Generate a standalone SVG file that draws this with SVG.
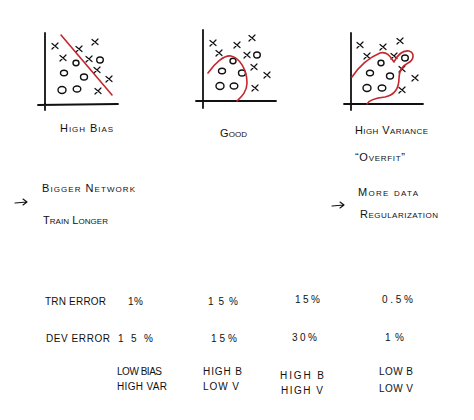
<svg xmlns="http://www.w3.org/2000/svg" width="474" height="420" viewBox="0 0 474 420">
<defs>
<style>
.ax{stroke:#111;stroke-width:1.8;fill:none;stroke-linecap:round}
.x{stroke:#111;stroke-width:1.2;fill:none;stroke-linecap:round}
.o{stroke:#111;stroke-width:1.4;fill:none}
.red{stroke:#c4262e;stroke-width:1.6;fill:none;stroke-linecap:round;stroke-linejoin:round}
.t{font-family:"Liberation Sans",Arial,sans-serif;font-size:11px;fill:#111;font-variant:small-caps}
.u{font-family:"Liberation Sans",Arial,sans-serif;font-size:10px;fill:#111}
.arr{stroke:#111;stroke-width:1.1;fill:none;stroke-linecap:round;stroke-linejoin:round}
</style>
<g id="xm"><path class="x" d="M-3,-2.5 L3,2.5 M3,-3 L-3,3"/></g>
</defs>

<g id="panel-high-bias">
<path class="ax" d="M45,33 L45,110 M38,105 L118,104"/>
<use href="#xm" x="55" y="46"/><use href="#xm" x="79" y="49"/><use href="#xm" x="95" y="42"/>
<use href="#xm" x="63" y="58"/><use href="#xm" x="89" y="59"/><use href="#xm" x="97" y="70"/>
<use href="#xm" x="109" y="79"/><use href="#xm" x="98" y="91"/>
<ellipse class="o" cx="76" cy="63" rx="3" ry="2.7"/><ellipse class="o" cx="100" cy="60" rx="3.3" ry="3"/>
<ellipse class="o" cx="64" cy="73" rx="3.5" ry="2.8"/><ellipse class="o" cx="84" cy="77" rx="3.5" ry="3"/>
<ellipse class="o" cx="62" cy="90" rx="4" ry="3.5"/><ellipse class="o" cx="77" cy="89" rx="3.8" ry="3"/>
<path class="red" d="M61,35 L112,95"/>
<text class="t" x="60" y="131.5" textLength="53" lengthAdjust="spacing">High Bias</text>
</g>

<g id="panel-good">
<path class="ax" d="M203,30 L203,108 M196,101 L276,101"/>
<use href="#xm" x="213" y="43"/><use href="#xm" x="237" y="45"/><use href="#xm" x="252" y="38"/>
<use href="#xm" x="219" y="53"/><use href="#xm" x="247" y="55"/><use href="#xm" x="254" y="67"/>
<use href="#xm" x="267" y="75"/><use href="#xm" x="255" y="88"/>
<ellipse class="o" cx="233" cy="61" rx="3" ry="2.7"/><ellipse class="o" cx="257" cy="55" rx="3.3" ry="3"/>
<ellipse class="o" cx="222" cy="71" rx="3.5" ry="2.8"/><ellipse class="o" cx="242" cy="73" rx="3.5" ry="3"/>
<ellipse class="o" cx="220" cy="86" rx="4" ry="3.5"/><ellipse class="o" cx="234" cy="86" rx="3.8" ry="3"/>
<path class="red" d="M208,73 C215,63 224,55 231,56 C240,58 247,70 247,83 C247,92 241,97 237,101"/>
<text class="t" x="220" y="136.5" textLength="27" lengthAdjust="spacing">Good</text>
</g>

<g id="panel-high-variance">
<path class="ax" d="M351,33 L351,110 M344,104 L423,104"/>
<use href="#xm" x="360" y="45"/><use href="#xm" x="383" y="47"/><use href="#xm" x="400" y="41"/>
<use href="#xm" x="367" y="56"/><use href="#xm" x="394" y="56"/><use href="#xm" x="402" y="69"/>
<use href="#xm" x="415" y="78"/><use href="#xm" x="402" y="90"/>
<ellipse class="o" cx="381" cy="63" rx="3" ry="2.7"/><ellipse class="o" cx="405" cy="58" rx="3.3" ry="3"/>
<ellipse class="o" cx="370" cy="73" rx="3.5" ry="2.8"/><ellipse class="o" cx="390" cy="76" rx="3.5" ry="3"/>
<ellipse class="o" cx="367" cy="88" rx="4" ry="3.5"/><ellipse class="o" cx="382" cy="88" rx="3.8" ry="3"/>
<path class="red" d="M352,77 C358,68 368,58 380,53 C388,51 391,58 394,62 C397,56 402,50 409,51 C415,53 414,60 408,63 C402,66 399,70 399,78 C399,88 395,95 385,97 C375,98 369,100 367,104"/>
<text class="t" x="355" y="133.5" textLength="73" lengthAdjust="spacing">High Variance</text>
<text class="t" x="355" y="160.5" textLength="50" lengthAdjust="spacing">“Overfit”</text>
</g>

<g id="remedy-bias">
<path class="arr" d="M15,203 L27,202 M23,199 L27,202 L23,205"/>
<text class="t" x="42" y="191.5" textLength="93" lengthAdjust="spacing">Bigger Network</text>
<text class="t" x="43" y="223.5" textLength="65" lengthAdjust="spacing">Train Longer</text>
</g>

<g id="remedy-variance">
<path class="arr" d="M332,206 L344,205 M340,202 L344,205 L340,208"/>
<text class="t" x="358" y="195.5" textLength="60" lengthAdjust="spacing">More data</text>
<text class="t" x="360" y="217.5" textLength="78" lengthAdjust="spacing">Regularization</text>
</g>

<g id="table">
<text class="u" x="45" y="304.5" textLength="61" lengthAdjust="spacing">TRN ERROR</text>
<text class="u" x="46" y="341.5" textLength="64" lengthAdjust="spacing">DEV ERROR</text>
<text class="u" x="128" y="304.5" textLength="15" lengthAdjust="spacing">1%</text>
<text class="u" x="118" y="341.5" textLength="35" lengthAdjust="spacing">15%</text>
<text class="u" x="208" y="304.5" textLength="30" lengthAdjust="spacing">15%</text>
<text class="u" x="211" y="341.5" textLength="26" lengthAdjust="spacing">15%</text>
<text class="u" x="295" y="302.5" textLength="25" lengthAdjust="spacing">15%</text>
<text class="u" x="292" y="340.5" textLength="25" lengthAdjust="spacing">30%</text>
<text class="u" x="382" y="302.5" textLength="31" lengthAdjust="spacing">0.5%</text>
<text class="u" x="385" y="340.5" textLength="19" lengthAdjust="spacing">1%</text>
<text class="u" x="117" y="374.5" textLength="45" lengthAdjust="spacing">LOW BIAS</text>
<text class="u" x="117" y="389.5" textLength="50" lengthAdjust="spacing">HIGH VAR</text>
<text class="u" x="203" y="374.5" textLength="39" lengthAdjust="spacing">HIGH B</text>
<text class="u" x="203" y="389.5" textLength="36" lengthAdjust="spacing">LOW V</text>
<text class="u" x="280" y="378.5" textLength="44" lengthAdjust="spacing">HIGH B</text>
<text class="u" x="281" y="393.5" textLength="42" lengthAdjust="spacing">HIGH V</text>
<text class="u" x="379" y="374.5" textLength="34" lengthAdjust="spacing">LOW B</text>
<text class="u" x="379" y="391.5" textLength="34" lengthAdjust="spacing">LOW V</text>
</g>
</svg>
